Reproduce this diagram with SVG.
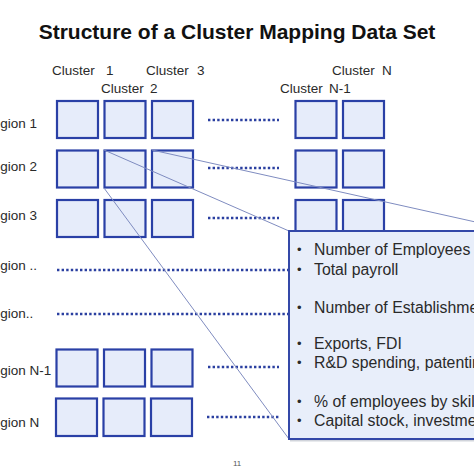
<svg xmlns="http://www.w3.org/2000/svg" width="474" height="474" viewBox="0 0 474 474">
<style>
text{font-family:"Liberation Sans",Arial,sans-serif;fill:#2a2a2a}
.title{font-size:21px;font-weight:bold;fill:#111}
.lbl{font-size:13.5px}
.cell{fill:#e6ecfa;stroke:#2a40a6;stroke-width:2.2}
.dot{stroke:#2a3fa0;stroke-width:2.5;stroke-dasharray:2.4 2.2;fill:none}
.conn{stroke:#7f8cc0;stroke-width:1;fill:none}
.bt{font-size:15.8px;fill:#333}
.bu{font-size:13px;fill:#333}
</style>
<rect width="474" height="474" fill="#fff"/>
<text class="title" x="237" y="39" text-anchor="middle">Structure of a Cluster Mapping Data Set</text>
<g id="cluster-labels" class="lbl">
<text x="52" y="75">Cluster<tspan x="106">1</tspan></text>
<text x="146" y="75">Cluster<tspan x="197">3</tspan></text>
<text x="332" y="75">Cluster<tspan x="382">N</tspan></text>
<text x="101" y="93">Cluster<tspan x="150">2</tspan></text>
<text x="280" y="93">Cluster<tspan x="329">N-1</tspan></text>
</g>
<g id="region-labels" class="lbl">
<text x="-17" y="128">Region 1</text>
<text x="-17" y="171">Region 2</text>
<text x="-17" y="220">Region 3</text>
<text x="-17" y="270">Region ..</text>
<text x="-17" y="318">Region..</text>
<text x="-17" y="375">Region N-1</text>
<text x="-17" y="427">Region N</text>
</g>
<g id="row1">
<rect class="cell" x="57" y="101" width="41" height="37"/>
<rect class="cell" x="104.5" y="101" width="41" height="37"/>
<rect class="cell" x="152" y="101" width="41" height="37"/>
<rect class="cell" x="295.5" y="101" width="41" height="37"/>
<rect class="cell" x="343" y="101" width="41" height="37"/>
</g>
<g id="row2">
<rect class="cell" x="57" y="150.5" width="41" height="37"/>
<rect class="cell" x="104.5" y="150.5" width="41" height="37"/>
<rect class="cell" x="152" y="150.5" width="41" height="37"/>
<rect class="cell" x="295.5" y="150.5" width="41" height="37"/>
<rect class="cell" x="343" y="150.5" width="41" height="37"/>
</g>
<g id="row3">
<rect class="cell" x="57" y="200" width="41" height="37"/>
<rect class="cell" x="104.5" y="200" width="41" height="37"/>
<rect class="cell" x="152" y="200" width="41" height="37"/>
<rect class="cell" x="295.5" y="200" width="41" height="37"/>
<rect class="cell" x="343" y="200" width="41" height="37"/>
</g>
<g id="rowN-1">
<rect class="cell" x="56.5" y="349.5" width="41" height="37"/>
<rect class="cell" x="104" y="349.5" width="41" height="37"/>
<rect class="cell" x="151.5" y="349.5" width="41" height="37"/>
</g>
<g id="rowN">
<rect class="cell" x="56" y="398.5" width="41" height="37.5"/>
<rect class="cell" x="103.5" y="398.5" width="41" height="37.5"/>
<rect class="cell" x="151" y="398.5" width="41" height="37.5"/>
</g>
<g id="dotted">
<line class="dot" x1="208" y1="120" x2="279" y2="120"/>
<line class="dot" x1="208" y1="168" x2="279" y2="168"/>
<line class="dot" x1="208" y1="218" x2="279" y2="218"/>
<line class="dot" x1="57" y1="270" x2="289" y2="270"/>
<line class="dot" x1="57" y1="314" x2="289" y2="314"/>
<line class="dot" x1="208" y1="367" x2="279" y2="367"/>
<line class="dot" x1="207" y1="417" x2="279" y2="417"/>
</g>
<g id="connectors">
<line class="conn" x1="104" y1="150" x2="289" y2="231"/>
<line class="conn" x1="104" y1="188" x2="289" y2="439"/>
<line class="conn" x1="152" y1="150" x2="480" y2="223"/>
</g>
<g id="callout">
<rect x="290" y="233" width="200" height="208.5" fill="#9aa0b0" opacity="0.45"/>
<rect x="289" y="231" width="200" height="208" fill="#e8eefa" stroke="#3448a8" stroke-width="2"/>
<g class="bu">
<text x="297" y="254">•</text><text x="297" y="274">•</text><text x="297" y="312">•</text>
<text x="297" y="348">•</text><text x="297" y="367">•</text><text x="297" y="406">•</text>
<text x="297" y="425">•</text>
</g>
<g class="bt">
<text x="314" y="255">Number of Employees</text>
<text x="314" y="275">Total payroll</text>
<text x="314" y="313">Number of Establishments</text>
<text x="314" y="349">Exports, FDI</text>
<text x="314" y="368">R&amp;D spending, patenting</text>
<text x="314" y="407">% of employees by skill</text>
<text x="314" y="426">Capital stock, investment</text>
</g>
</g>
<text x="233" y="466" font-size="8" style="fill:#555">11</text>
</svg>
